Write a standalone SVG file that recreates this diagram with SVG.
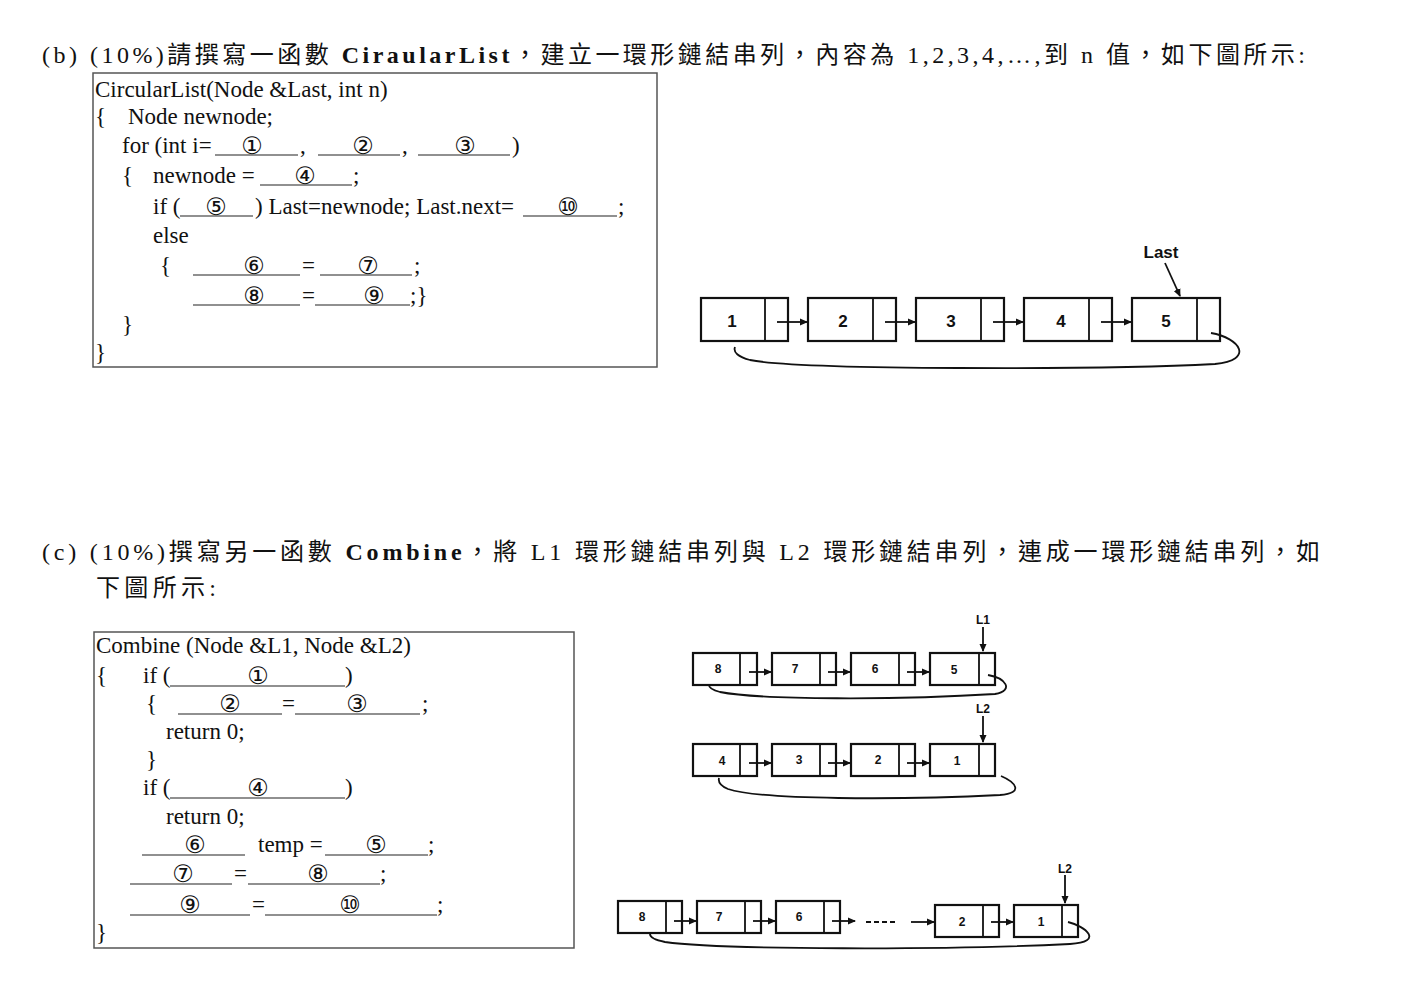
<svg xmlns="http://www.w3.org/2000/svg" width="1410" height="984" viewBox="0 0 1410 984">
<style>
.h{font-family:"Liberation Serif","Noto Sans CJK TC",serif;font-size:24px;fill:#111}
.c{font-family:"Liberation Serif",serif;font-size:23px;fill:#111}
.n{font-family:"DejaVu Sans",sans-serif;font-size:24px;fill:#111;text-anchor:middle}
.u{stroke:#222;stroke-width:1.2}
.box{fill:#fff;stroke:#555;stroke-width:1.5}
.nd{fill:#fff;stroke:#111;stroke-width:2.2}
.t1{font-family:"Liberation Sans",sans-serif;font-weight:bold;font-size:17px;text-anchor:middle;fill:#111}
.t2{font-family:"Liberation Sans",sans-serif;font-weight:bold;font-size:12px;text-anchor:middle;fill:#111}
.a{stroke:#111;stroke-width:1.8;fill:none}
</style>
<defs>
<marker id="ar" markerWidth="8" markerHeight="8" refX="7" refY="4" orient="auto" markerUnits="userSpaceOnUse"><path d="M0,0.5 L8,4 L0,7.5 z" fill="#111"/></marker>
</defs>
<rect width="1410" height="984" fill="#fff"/>
<text class="h" x="42" y="63" textLength="1263" lengthAdjust="spacing">(b)  (10%)請撰寫一函數 <tspan font-weight="bold">CiraularList</tspan>，建立一環形鏈結串列，內容為 1,2,3,4,…,到 n 值，如下圖所示:</text>
<text class="h" x="42" y="560" textLength="1278" lengthAdjust="spacing">(c)  (10%)撰寫另一函數 <tspan font-weight="bold">Combine</tspan>，將 L1 環形鏈結串列與 L2 環形鏈結串列，連成一環形鏈結串列，如</text>
<text class="h" x="96" y="596" textLength="120" lengthAdjust="spacing">下圖所示:</text>

<g id="code-b">
<rect class="box" x="93" y="73" width="564" height="294"/>
<text class="c" x="95" y="97">CircularList(Node &amp;Last, int n)</text>
<text class="c" x="95" y="124">{</text><text class="c" x="128" y="124">Node newnode;</text>
<text class="c" x="122" y="153">for (int i=</text>
<line class="u" x1="215" y1="155" x2="298" y2="155"/><text class="n" x="252" y="154">①</text><text class="c" x="300" y="153">,</text>
<line class="u" x1="318" y1="155" x2="400" y2="155"/><text class="n" x="363" y="154">②</text><text class="c" x="402" y="153">,</text>
<line class="u" x1="418" y1="155" x2="510" y2="155"/><text class="n" x="465" y="154">③</text><text class="c" x="512" y="153">)</text>
<text class="c" x="122" y="183">{</text><text class="c" x="153" y="183">newnode =</text>
<line class="u" x1="260" y1="185" x2="352" y2="185"/><text class="n" x="305" y="184">④</text><text class="c" x="353" y="183">;</text>
<text class="c" x="153" y="214">if (</text>
<line class="u" x1="180" y1="216" x2="253" y2="216"/><text class="n" x="216" y="215">⑤</text>
<text class="c" x="255" y="214">) Last=newnode; Last.next=</text>
<line class="u" x1="523" y1="216" x2="617" y2="216"/><text class="n" x="568" y="215">⑩</text><text class="c" x="618" y="214">;</text>
<text class="c" x="153" y="243">else</text>
<text class="c" x="160" y="273">{</text>
<line class="u" x1="193" y1="275" x2="300" y2="275"/><text class="n" x="254" y="274">⑥</text><text class="c" x="302" y="273">=</text>
<line class="u" x1="320" y1="275" x2="412" y2="275"/><text class="n" x="368" y="274">⑦</text><text class="c" x="414" y="273">;</text>
<line class="u" x1="193" y1="305" x2="300" y2="305"/><text class="n" x="254" y="304">⑧</text><text class="c" x="302" y="303">=</text>
<line class="u" x1="315" y1="305" x2="410" y2="305"/><text class="n" x="374" y="304">⑨</text><text class="c" x="410" y="303">;}</text>
<text class="c" x="122" y="332">}</text>
<text class="c" x="95" y="360">}</text>
</g>

<g id="code-c">
<rect class="box" x="94" y="632" width="480" height="316"/>
<text class="c" x="96" y="653">Combine (Node &amp;L1, Node &amp;L2)</text>
<text class="c" x="96" y="683">{</text><text class="c" x="143" y="683">if (</text>
<line class="u" x1="170" y1="686" x2="345" y2="686"/><text class="n" x="258" y="684">①</text><text class="c" x="345" y="683">)</text>
<text class="c" x="146" y="711">{</text>
<line class="u" x1="178" y1="714" x2="282" y2="714"/><text class="n" x="230" y="712">②</text><text class="c" x="282" y="711">=</text>
<line class="u" x1="295" y1="714" x2="420" y2="714"/><text class="n" x="357" y="712">③</text><text class="c" x="422" y="711">;</text>
<text class="c" x="166" y="739">return 0;</text>
<text class="c" x="146" y="767">}</text>
<text class="c" x="143" y="795">if (</text>
<line class="u" x1="170" y1="798" x2="345" y2="798"/><text class="n" x="258" y="796">④</text><text class="c" x="345" y="795">)</text>
<text class="c" x="166" y="824">return 0;</text>
<line class="u" x1="142" y1="855" x2="245" y2="855"/><text class="n" x="195" y="853">⑥</text>
<text class="c" x="258" y="852">temp =</text>
<line class="u" x1="325" y1="855" x2="428" y2="855"/><text class="n" x="376" y="853">⑤</text><text class="c" x="428" y="852">;</text>
<line class="u" x1="130" y1="884" x2="232" y2="884"/><text class="n" x="183" y="882">⑦</text><text class="c" x="234" y="881">=</text>
<line class="u" x1="248" y1="884" x2="380" y2="884"/><text class="n" x="318" y="882">⑧</text><text class="c" x="380" y="881">;</text>
<line class="u" x1="130" y1="915" x2="250" y2="915"/><text class="n" x="190" y="913">⑨</text><text class="c" x="252" y="912">=</text>
<line class="u" x1="265" y1="915" x2="437" y2="915"/><text class="n" x="350" y="913">⑩</text><text class="c" x="437" y="912">;</text>
<text class="c" x="96" y="940">}</text>
</g>

<g id="list-b">
<g id="b1"><rect class="nd" x="701" y="298" width="87" height="43"/><line class="a" x1="765" y1="298" x2="765" y2="341"/><text class="t1" x="732" y="327">1</text></g>
<g id="b2"><rect class="nd" x="808" y="298" width="88" height="43"/><line class="a" x1="873" y1="298" x2="873" y2="341"/><text class="t1" x="843" y="327">2</text></g>
<g id="b3"><rect class="nd" x="916" y="298" width="88" height="43"/><line class="a" x1="981" y1="298" x2="981" y2="341"/><text class="t1" x="951" y="327">3</text></g>
<g id="b4"><rect class="nd" x="1024" y="298" width="88" height="43"/><line class="a" x1="1089" y1="298" x2="1089" y2="341"/><text class="t1" x="1061" y="327">4</text></g>
<g id="b5"><rect class="nd" x="1132" y="298" width="88" height="43"/><line class="a" x1="1197" y1="298" x2="1197" y2="341"/><text class="t1" x="1166" y="327">5</text></g>
<text class="t1" x="1161" y="258" font-size="16">Last</text>
</g>

<g id="list-c1">
<g><rect class="nd" x="693" y="653" width="64" height="32"/><line class="a" x1="740" y1="653" x2="740" y2="685"/><text class="t2" x="718" y="673">8</text></g>
<g><rect class="nd" x="772" y="653" width="64" height="32"/><line class="a" x1="820" y1="653" x2="820" y2="685"/><text class="t2" x="795" y="673">7</text></g>
<g><rect class="nd" x="851" y="653" width="64" height="32"/><line class="a" x1="899" y1="653" x2="899" y2="685"/><text class="t2" x="875" y="673">6</text></g>
<g><rect class="nd" x="930" y="653" width="65" height="32"/><line class="a" x1="979" y1="653" x2="979" y2="685"/><text class="t2" x="954" y="674">5</text></g>
<text class="t2" x="983" y="624">L1</text>
</g>
<g id="list-c2">
<g><rect class="nd" x="693" y="744" width="64" height="32"/><line class="a" x1="740" y1="744" x2="740" y2="776"/><text class="t2" x="722" y="765">4</text></g>
<g><rect class="nd" x="772" y="744" width="64" height="32"/><line class="a" x1="820" y1="744" x2="820" y2="776"/><text class="t2" x="799" y="764">3</text></g>
<g><rect class="nd" x="851" y="744" width="64" height="32"/><line class="a" x1="899" y1="744" x2="899" y2="776"/><text class="t2" x="878" y="764">2</text></g>
<g><rect class="nd" x="930" y="744" width="65" height="32"/><line class="a" x1="979" y1="744" x2="979" y2="776"/><text class="t2" x="957" y="765">1</text></g>
<text class="t2" x="983" y="713">L2</text>
</g>
<g id="list-c3">
<g><rect class="nd" x="618" y="901" width="64" height="32"/><line class="a" x1="666" y1="901" x2="666" y2="933"/><text class="t2" x="642" y="921">8</text></g>
<g><rect class="nd" x="697" y="901" width="64" height="32"/><line class="a" x1="745" y1="901" x2="745" y2="933"/><text class="t2" x="719" y="921">7</text></g>
<g><rect class="nd" x="776" y="901" width="64" height="32"/><line class="a" x1="824" y1="901" x2="824" y2="933"/><text class="t2" x="799" y="921">6</text></g>
<g><rect class="nd" x="935" y="905" width="64" height="32"/><line class="a" x1="983" y1="905" x2="983" y2="937"/><text class="t2" x="962" y="926">2</text></g>
<g><rect class="nd" x="1014" y="905" width="64" height="32"/><line class="a" x1="1062" y1="905" x2="1062" y2="937"/><text class="t2" x="1041" y="926">1</text></g>
<text class="t2" x="1065" y="873">L2</text>
</g>

<g id="connectors">
<line class="a" x1="777" y1="322" x2="807" y2="322" marker-end="url(#ar)"/>
<line class="a" x1="885" y1="322" x2="915" y2="322" marker-end="url(#ar)"/>
<line class="a" x1="993" y1="322" x2="1023" y2="322" marker-end="url(#ar)"/>
<line class="a" x1="1101" y1="322" x2="1131" y2="322" marker-end="url(#ar)"/>
<line class="a" x1="1165" y1="263" x2="1180" y2="296" marker-end="url(#ar)"/>
<path class="a" d="M1211,333 C1240,338 1255,360 1215,364 C1100,370 800,370 750,360 C738,357 733,352 735,347"/>

<line class="a" x1="749" y1="672" x2="771" y2="672" marker-end="url(#ar)"/>
<line class="a" x1="828" y1="672" x2="850" y2="672" marker-end="url(#ar)"/>
<line class="a" x1="907" y1="672" x2="929" y2="672" marker-end="url(#ar)"/>
<line class="a" x1="983" y1="627" x2="983" y2="651" marker-end="url(#ar)"/>
<path class="a" d="M988,675 C1005,678 1015,690 995,694 C900,700 760,700 720,692 C712,690 709,687 709,685"/>

<line class="a" x1="749" y1="763" x2="771" y2="763" marker-end="url(#ar)"/>
<line class="a" x1="828" y1="763" x2="850" y2="763" marker-end="url(#ar)"/>
<line class="a" x1="907" y1="763" x2="929" y2="763" marker-end="url(#ar)"/>
<line class="a" x1="983" y1="716" x2="983" y2="742" marker-end="url(#ar)"/>
<path class="a" d="M1001,776 C1015,782 1025,793 1000,795 C900,800 760,800 728,789 C721,786 718,782 719,778"/>

<line class="a" x1="674" y1="921" x2="696" y2="921" marker-end="url(#ar)"/>
<line class="a" x1="753" y1="921" x2="775" y2="921" marker-end="url(#ar)"/>
<line class="a" x1="832" y1="921" x2="855" y2="921" marker-end="url(#ar)"/>
<line class="a" x1="866" y1="922" x2="898" y2="922" stroke-dasharray="5,3"/>
<line class="a" x1="911" y1="922" x2="934" y2="922" marker-end="url(#ar)"/>
<line class="a" x1="991" y1="922" x2="1013" y2="922" marker-end="url(#ar)"/>
<line class="a" x1="1065" y1="875" x2="1065" y2="903" marker-end="url(#ar)"/>
<path class="a" d="M1068,922 C1085,926 1105,942 1070,944 C950,950 720,950 665,942 C655,940 650,937 650,934"/>
</g>
</svg>
